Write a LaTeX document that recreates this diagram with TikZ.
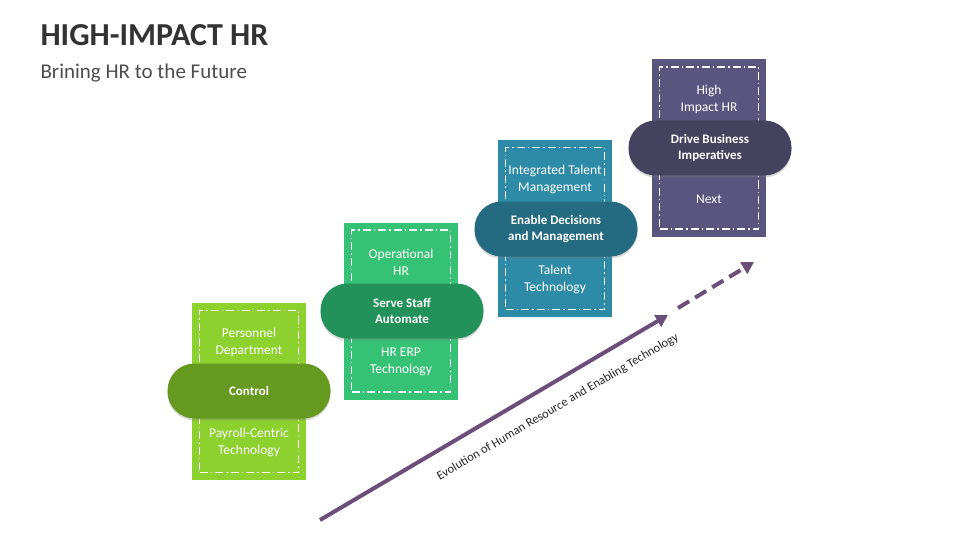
\documentclass[tikz,border=0pt]{standalone}
\usepackage{fontspec}
\setmainfont{Carlito}
\usetikzlibrary{arrows.meta,shadows}
\definecolor{gA}{HTML}{8CD12E}\definecolor{gAd}{HTML}{66991F}
\definecolor{gB}{HTML}{36C275}\definecolor{gBd}{HTML}{23915A}
\definecolor{gC}{HTML}{2E8BA8}\definecolor{gCd}{HTML}{246A80}
\definecolor{gD}{HTML}{58567E}\definecolor{gDd}{HTML}{44425F}
\definecolor{arr}{HTML}{6B4F7A}
\tikzset{
 col/.style={fill=#1,minimum width=114pt,minimum height=177pt,inner sep=0pt},
 inner/.style={draw=white,line width=1.2pt,dash pattern=on 8pt off 3pt on 1.5pt off 3pt,minimum width=99pt,minimum height=162pt,inner sep=0pt},
 pill/.style={fill=#1,rounded corners=27pt,minimum width=163pt,minimum height=55pt,text=white,font=\fontsize{13}{16}\selectfont\bfseries,align=center,drop shadow={opacity=0.3,shadow xshift=0pt,shadow yshift=-2pt}},
 lbl/.style={text=white,font=\fontsize{13.5}{17}\selectfont,align=center},
}
\begin{document}
\begin{tikzpicture}[x=1pt,y=-1pt]
\useasboundingbox (0,0) rectangle (960,540);
\node[anchor=west,font=\fontsize{32}{34}\selectfont\bfseries,text=black!80] (t) at (37,35) {HIGH-IMPACT HR};
\node[anchor=west,font=\fontsize{21}{23}\selectfont,text=black!70] (s) at (37,73) {Brining HR to the Future};
\foreach \n/\x/\y/\c/\d/\tt/\bb in {
 a/249/391.5/gA/gAd/{Personnel\\Department}/{Payroll-Centric\\Technology},
 b/401/311/gB/gBd/{Operational\\HR}/{HR ERP\\Technology},
 c/555/228.5/gC/gCd/{Integrated Talent\\Management}/{Talent\\Technology},
 d/709/148/gD/gDd/{High\\Impact HR}/{Next}}{
 \node[col=\c] (box\n) at (\x,\y) {};
 \node[inner] (in\n) at (\x,\y) {};
 \node[lbl] (top\n) at (\x,\y-49) {\tt};
 \node[lbl] (bot\n) at (\x,\y+51) {\bb};
}
\node[pill=gAd] (pa) at (249,391) {Control};
\node[pill=gBd] (pb) at (402,311) {Serve Staff\\Automate};
\node[pill=gCd] (pc) at (556,229) {Enable Decisions\\and Management};
\node[pill=gDd] (pd) at (710,148) {Drive Business\\Imperatives};
\coordinate (s0) at (320,520);
\coordinate (s1) at (668,315);
\coordinate (s2) at (678,308);
\coordinate (s3) at (754,262);
\draw[arr,line width=4pt,-{Triangle[length=12pt,width=13pt]}] (s0) -- (s1);
\draw[arr,line width=4pt,dash pattern=on 13pt off 7pt,-{Triangle[length=12pt,width=13pt]}] (s2) -- (s3);
\node[rotate=30.5,font=\fontsize{12.5}{14}\selectfont,text=black!85] (el) at (558,407) {Evolution of Human Resource and Enabling Technology};
\end{tikzpicture}
\end{document}
